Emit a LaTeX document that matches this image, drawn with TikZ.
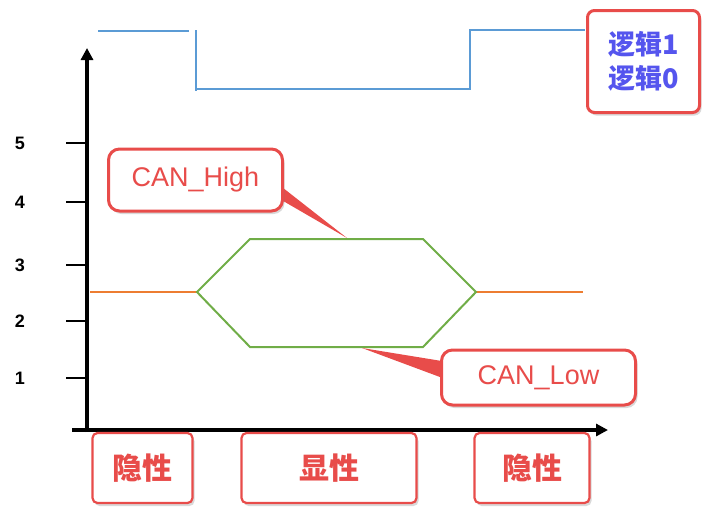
\documentclass[tikz,border=0pt]{standalone}
\usepackage{fontspec}
\setmainfont{Liberation Sans}
\newfontfamily\cjk{Noto Sans CJK SC}
\usetikzlibrary{arrows.meta,shadows}
\definecolor{cred}{HTML}{E84C4A}
\definecolor{cblue}{HTML}{5B9BD5}
\definecolor{cgreen}{HTML}{70AD47}
\definecolor{corange}{HTML}{ED7D31}
\definecolor{ctxt}{HTML}{5555EE}
\begin{document}
\begin{tikzpicture}[x=1pt,y=-1pt,
  callout/.style={draw=cred,line width=3pt,fill=white,rounded corners=11pt,drop shadow={opacity=0.3,shadow xshift=2pt,shadow yshift=-3pt}},
  box/.style={draw=cred,line width=2.2pt,fill=white,rounded corners=5pt,drop shadow={opacity=0.3,shadow xshift=2pt,shadow yshift=-3pt}},
  lab/.style={font=\fontsize{18}{18}\selectfont\bfseries}]
\useasboundingbox (0,0) rectangle (719,515);
% axes
\draw[line width=4pt,-{Triangle[length=12pt,width=12pt]}] (87,432) -- (87,48);
\draw[line width=4pt,-{Triangle[length=12pt,width=12pt]}] (72,430) -- (608,430);
\foreach \yy/\t in {143/5,202/4,265/3,321/2,378/1}{
  \draw[line width=1.3pt] (66,\yy) -- (87,\yy);
  \node[lab] (t\t) at (20,\yy) {\t};}
% blue logic line
\draw[cblue,line width=1.3pt] (98,31) -- (189,31);
\draw[cblue,line width=1.3pt] (196,30) -- (196,91);
\draw[cblue,line width=1.3pt] (196,89) -- (470,89) -- (470,30) -- (585,30);
% orange / green
\draw[corange,line width=2pt] (90,292) -- (197,292);
\draw[corange,line width=2pt] (476,292) -- (583,292);
\draw[cgreen,line width=2pt] (197,292) -- (250,239) -- (423,239) -- (476,292) -- (423,347) -- (250,347) -- cycle;
% logic box
\node[callout,rounded corners=7pt,minimum width=112pt,minimum height=102pt,text=ctxt,align=left,font=\cjk\fontsize{27}{34}\selectfont\bfseries] (logic) at (643.5,61.5) {逻辑1\\逻辑0};
% CAN_High callout
\coordinate (hp) at (347,238);
\fill[cred] (278,184) -- (hp) -- (278,198) -- cycle;
\node[callout,minimum width=174pt,minimum height=62pt,text=cred,font=\fontsize{27}{27}\selectfont] (high) at (195.5,180) {CAN\_High};
% CAN_Low callout
\coordinate (lp) at (362,348);
\fill[cred] (448,362) -- (lp) -- (448,380) -- cycle;
\node[callout,minimum width=194pt,minimum height=55pt,text=cred,font=\fontsize{27}{27}\selectfont] (low) at (538.5,377.5) {CAN\_Low};
% bottom boxes
\node[box,minimum width=100pt,minimum height=70pt,text=cred,font=\cjk\fontsize{30}{30}\selectfont\bfseries] (b1) at (142.5,468) {隐性};
\node[box,minimum width=175pt,minimum height=70pt,text=cred,font=\cjk\fontsize{30}{30}\selectfont\bfseries] (b2) at (329,468) {显性};
\node[box,minimum width=115pt,minimum height=70pt,text=cred,font=\cjk\fontsize{30}{30}\selectfont\bfseries] (b3) at (532,468) {隐性};
\end{tikzpicture}
\end{document}
